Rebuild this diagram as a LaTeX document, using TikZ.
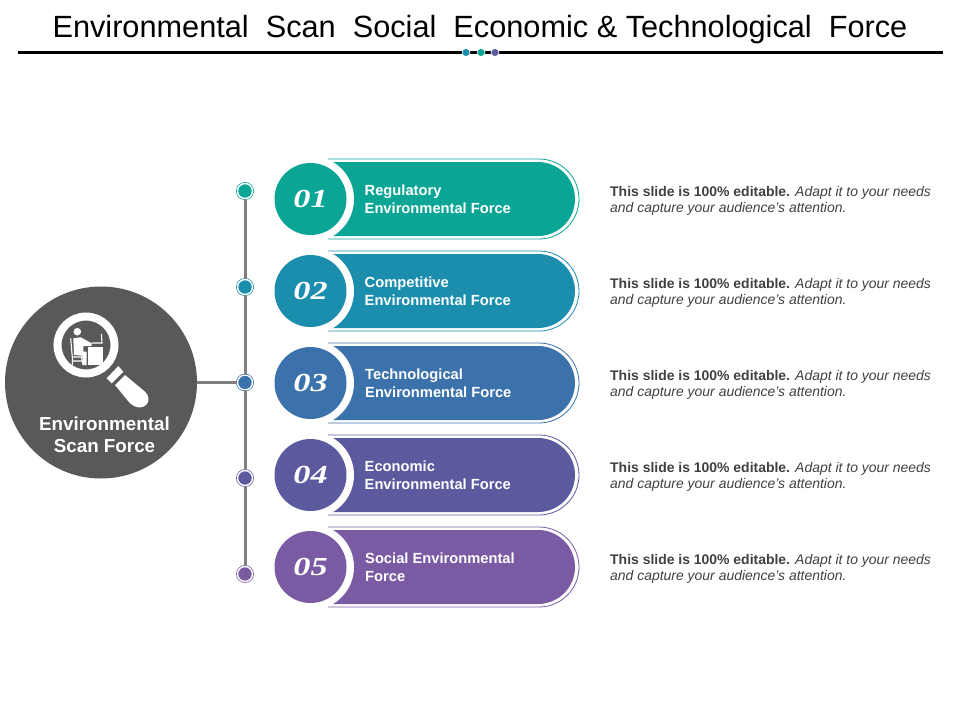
\documentclass[tikz,border=0pt]{standalone}
\usepackage{fontspec}
\setmainfont{Liberation Sans}
\newfontfamily\numfont{Liberation Serif}
\usepackage{xcolor}
\definecolor{rowa}{HTML}{0AA595}
\definecolor{rowb}{HTML}{1B8DAD}
\definecolor{rowc}{HTML}{3C72AB}
\definecolor{rowd}{HTML}{5C5A9E}
\definecolor{rowe}{HTML}{7A5BA3}
\definecolor{scangray}{HTML}{595959}
\definecolor{stemgray}{HTML}{7F7F7F}
\definecolor{notegray}{HTML}{404040}
\tikzset{
  dotnode/.style={circle, draw=#1, double=white, double distance=1.4pt, line width=.7pt, fill=#1, minimum size=15pt, inner sep=0pt},
  numnode/.style={circle, fill=#1, minimum size=72pt, inner sep=0pt, text=white, font=\numfont\bfseries\itshape\fontsize{26}{26}\selectfont},
  headnode/.style={anchor=west, text=white, align=left, inner sep=0pt, font=\bfseries\fontsize{14.7}{18}\selectfont},
  notenode/.style={anchor=west, text=notegray, align=left, inner sep=0pt, font=\fontsize{13.95}{16}\selectfont},
  stem/.style={stemgray, line width=3pt},
  smalldot/.style={circle, fill=#1, draw=white, line width=.6pt, minimum size=8pt, inner sep=0pt}
}
\begin{document}
\begin{tikzpicture}[x=1pt,y=-1pt]
  \useasboundingbox (0,0) rectangle (960,720);
  % header
  \node[inner sep=0pt, font=\fontsize{30.7}{32}\selectfont, text=black] (title) at (480,29.5) {Environmental\ \ Scan\ \ Social\ \ Economic\ \&\ Technological\ \ Force};
  \draw[black, line width=3pt] (18,52) -- (943,52);
  \node[smalldot=rowb] (ha) at (466,52.5) {};
  \node[smalldot=rowa] (hb) at (481,52.5) {};
  \node[smalldot=rowd] (hc) at (495,52.5) {};
  % left circle
  \node[circle, fill=scangray, minimum size=192pt, inner sep=0pt] (scan) at (101,382.5) {};
  \node[text=white, align=center, inner sep=0pt, font=\bfseries\fontsize{18.8}{22.5}\selectfont] (scanlabel) at (104.5,435) {Environmental\\Scan Force};
  % magnifier
  \draw[white, line width=8pt] (86,345) circle (28.5);
  \fill[white] (106.7,378.3) -- (118.3,366) -- (123.3,371.7) -- (111.7,383.3) -- cycle;
  \fill[white] (115,385) -- (125,375) -- (145,391.7) .. controls (149,395) and (150,402) .. (146,405) .. controls (142,409) and (135,408) .. (130,403.3) -- cycle;
  % person at desk
  \fill[white] (77.3,331.7) circle (3.8);
  \fill[white] (73.3,338.3) -- (80.7,337.3) -- (91.7,343.3) -- (91.7,346) -- (83.3,346) -- (83.3,351.7) -- (86.7,351.7) -- (86.7,365) -- (83.3,365) -- (82.3,355.7) -- (74,355) -- cycle;
  \draw[white, line width=1.1pt] (70.7,338.3) -- (72.3,357) -- (83,357) (72.3,357) -- (72.3,365) (81.5,357) -- (83,365) (72.3,361) -- (82,361);
  \fill[white] (88.3,346.5) rectangle (102.7,365);
  \draw[white, line width=1.1pt] (91.7,343) -- (102,343) -- (101.4,334);
  % rows
  \foreach \rowid/\rowy/\doty/\rowcol/\numtxt/\headtxt/\headdx in {%
    a/199/191/rowa/01/{Regulatory\\Environmental Force}/0,
    b/291/287/rowb/02/{Competitive\\Environmental Force}/0,
    c/383/382.5/rowc/03/{Technological\\Environmental Force}/0.5,
    d/475/478/rowd/04/{Economic\\Environmental Force}/0,
    e/567/574/rowe/05/{Social Environmental\\Force}/0.5}{
    \fill[\rowcol] (325,\rowy-37) -- (538,\rowy-37) arc (-90:90:37) -- (325,\rowy+37) -- cycle;
    \draw[\rowcol, line width=.8pt] (328,\rowy-40) -- (539,\rowy-40) arc (-90:90:40) -- (328,\rowy+40);
    \fill[white] (311,\rowy) circle (43);
    \node[numnode=\rowcol] (num\rowid) at (310.5,\rowy) {\raisebox{-1.5pt}{\scalebox{1.32}[1]{\numtxt}}};
    \node[headnode] (head\rowid) at (364.5+\headdx,\rowy) {\headtxt};
    \node[notenode] (note\rowid) at (610,\rowy+2) {\textbf{This slide is 100\% editable.} \textit{Adapt it to your needs}\\\textit{and capture your audience's attention.}};
    \node[dotnode=\rowcol] (dot\rowid) at (245,\doty) {};
  }
  % stem
  \draw[stem] (dota) -- (dotb);
  \draw[stem] (dotb) -- (dotc);
  \draw[stem] (dotc) -- (dotd);
  \draw[stem] (dotd) -- (dote);
  \draw[stem] (scan) -- (dotc);
\end{tikzpicture}
\end{document}
